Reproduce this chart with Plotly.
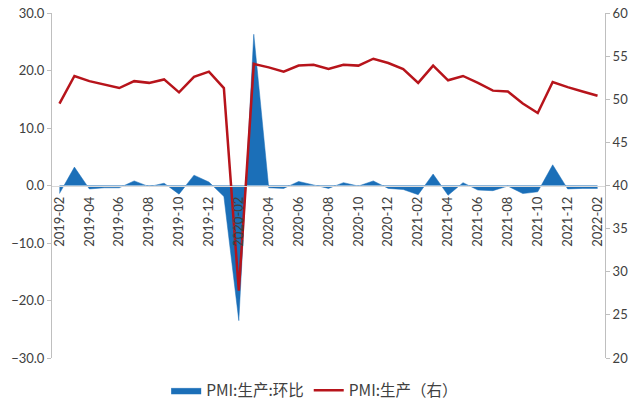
import plotly.graph_objects as go

months = ["2019-02", "2019-03", "2019-04", "2019-05", "2019-06", "2019-07", "2019-08", "2019-09",
          "2019-10", "2019-11", "2019-12", "2020-01", "2020-02", "2020-03", "2020-04", "2020-05",
          "2020-06", "2020-07", "2020-08", "2020-09", "2020-10", "2020-11", "2020-12", "2021-01",
          "2021-02", "2021-03", "2021-04", "2021-05", "2021-06", "2021-07", "2021-08", "2021-09",
          "2021-10", "2021-11", "2021-12", "2022-01", "2022-02"]

pmi_prod = [49.5, 52.7, 52.1, 51.7, 51.3, 52.1, 51.9, 52.3, 50.8, 52.6, 53.2, 51.3, 27.8,
            54.1, 53.7, 53.2, 53.9, 54.0, 53.5, 54.0, 53.9, 54.7, 54.2, 53.5, 51.9, 53.9,
            52.2, 52.7, 51.9, 51.0, 50.9, 49.5, 48.4, 52.0, 51.4, 50.9, 50.4]

pmi_prod_mom = [-1.4, 3.2, -0.6, -0.4, -0.4, 0.8, -0.2, 0.4, -1.5, 1.8, 0.6, -1.9, -23.5,
                26.3, -0.4, -0.5, 0.7, 0.1, -0.5, 0.5, -0.1, 0.8, -0.5, -0.7, -1.6, 2.0,
                -1.7, 0.5, -0.8, -0.9, -0.1, -1.4, -1.1, 3.6, -0.6, -0.5, -0.5]

tick_labels = months[::2]
left_ticks = [-30, -20, -10, 0, 10, 20, 30]
right_ticks = [20, 25, 30, 35, 40, 45, 50, 55, 60]

name_mom = "PMI:生产:环比"
name_lvl = "PMI:生产（右）"

font_family = "Lato, 'Noto Sans CJK SC', sans-serif"
txt = "#404040"

fig = go.Figure()
fig.add_trace(go.Scatter(
    x=months, y=pmi_prod_mom, name=name_mom, mode="lines",
    fill="tozeroy", fillcolor="#1B6FB8", line=dict(color="#1B6FB8", width=0.5),
    yaxis="y", xaxis="x"))
fig.add_trace(go.Scatter(
    x=months, y=pmi_prod, name=name_lvl, mode="lines",
    line=dict(color="#B7141B", width=2.5), yaxis="y2", xaxis="x"))

fig.update_layout(
    width=640, height=404,
    margin=dict(l=52, r=35, t=13, b=46, autoexpand=False),
    paper_bgcolor="white", plot_bgcolor="white",
    font=dict(family=font_family, size=12, color=txt),
    showlegend=True,
    legend=dict(orientation="h", x=0.475, xanchor="center", y=-0.095, yanchor="middle",
                font=dict(family="'Noto Sans CJK SC', sans-serif", size=15.5, color=txt),
                itemwidth=30, tracegroupgap=0),
    xaxis=dict(type="category", categoryorder="array", categoryarray=months,
               range=[-0.5, len(months) - 0.5],
               tickmode="array", tickvals=tick_labels, ticktext=tick_labels,
               tickangle=-90, anchor="free", position=0.5,
               showline=True, linecolor="#D9D9D9", linewidth=1,
               ticks="", showgrid=False, zeroline=False, automargin=False,
               ticklabelstandoff=5,
               tickfont=dict(size=13, color=txt)),
    yaxis=dict(range=[-30, 30], tickvals=left_ticks, tickformat=".1f",
               showline=True, linecolor="#BFBFBF", linewidth=1,
               ticks="outside", ticklen=4, tickcolor="#BFBFBF",
               showgrid=False, zeroline=False, automargin=False,
               tickfont=dict(size=13, color=txt)),
    yaxis2=dict(range=[20, 60], tickvals=right_ticks, overlaying="y", side="right",
                showline=True, linecolor="#BFBFBF", linewidth=1,
                ticks="outside", ticklen=4, tickcolor="#BFBFBF",
                showgrid=False, zeroline=False, automargin=False,
                tickfont=dict(size=13, color=txt)),
)

fig.write_html("out.html")
